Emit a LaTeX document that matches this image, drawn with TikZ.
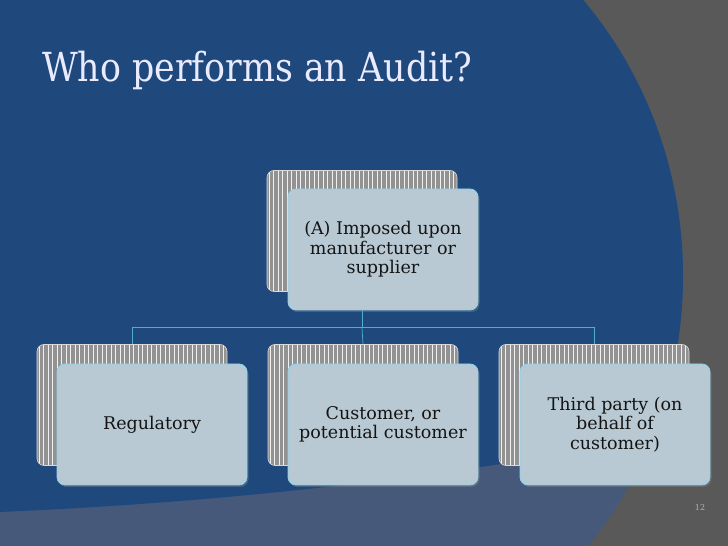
\documentclass[tikz,border=0pt]{standalone}
\usepackage{fontspec}
\setmainfont{DejaVu Serif}
\usepackage{xcolor}
\usepackage{tikz}
\usetikzlibrary{positioning,calc,shadows}
\definecolor{slideblue}{HTML}{1F497D}
\definecolor{slidegray}{HTML}{595959}
\definecolor{slideslate}{HTML}{46597A}
\definecolor{cardgray}{HTML}{929292}
\definecolor{cardfront}{HTML}{B8C9D3}
\definecolor{cardedge}{HTML}{8CD2EA}
\definecolor{linkcol}{HTML}{4FAFCF}
\tikzset{
  backcard/.style={rectangle, rounded corners=7pt, minimum width=190pt, minimum height=121pt,
    inner sep=0pt, fill=cardgray, draw=gray!30, line width=0.6pt,
    path picture={\foreach \i in {2,6.5,...,196}{
      \draw[white!88!gray, line width=1pt]
        ($(path picture bounding box.south west)+(\i,0)$) --
        ($(path picture bounding box.north west)+(\i,0)$);}}},
  frontcard/.style={rectangle, rounded corners=8pt, minimum width=190pt, minimum height=121pt,
    inner sep=4pt, fill=cardfront, draw=cardedge, line width=0.8pt, align=center,
    text=black!92, font=\fontsize{17.5}{19.5}\selectfont,
    drop shadow={opacity=0.45, shadow xshift=1.5pt, shadow yshift=-2pt}},
  titletext/.style={font=\fontsize{40}{44}\selectfont, text=white!92!blue, inner sep=0pt},
  slidenum/.style={font=\fontsize{8}{9}\selectfont, text=gray!60, inner sep=0pt},
  link/.style={draw=linkcol, line width=0.7pt},
}

\begin{document}
\begin{tikzpicture}[x=1pt, y=1pt]
% ---- background ----
\fill[slidegray] (0,0) rectangle (728,546);
\useasboundingbox (0,0) rectangle (728,546);
\begin{scope}
  \clip (278,270) ellipse [x radius=405, y radius=420];
  \fill[slideslate] (0,0) rectangle (728,546);
  \fill[slideblue] (0,34) .. controls (250,45) and (450,70) .. (720,118) -- (728,546) -- (0,546) -- cycle;
\end{scope}
% ---- title ----
\node[titletext, anchor=base west] (title) at (42,464) {\scalebox{0.87}[1]{Who performs an Audit?}};
\node[slidenum] (num) at (700,38) {12};
% ---- back cards ----
\node[backcard] (topbk) at (362,315) {};
\node[backcard] (regbk) at (132,141) {};
\node[backcard] (custbk) at (363,141) {};
\node[backcard] (thirdbk) at (594,141) {};
% ---- connectors ----
\coordinate (bus) at ($(topbk.south)+(0,-36)$);
\draw[link] (topbk.south) -- (bus);
\draw[link] (regbk.north) |- (bus) -| (thirdbk.north);
\draw[link] (bus) -- (custbk.north);
% ---- front cards ----
\node[frontcard] (top) at ($(topbk)+(21,-18.5)$) {(A) Imposed upon\\manufacturer or\\supplier};
\node[frontcard] (reg) at ($(regbk)+(20,-19.5)$) {Regulatory};
\node[frontcard] (cust) at ($(custbk)+(20,-19.5)$) {Customer, or\\potential customer};
\node[frontcard] (third) at ($(thirdbk)+(21,-19.5)$) {Third party (on\\behalf of\\customer)};
\end{tikzpicture}
\end{document}
